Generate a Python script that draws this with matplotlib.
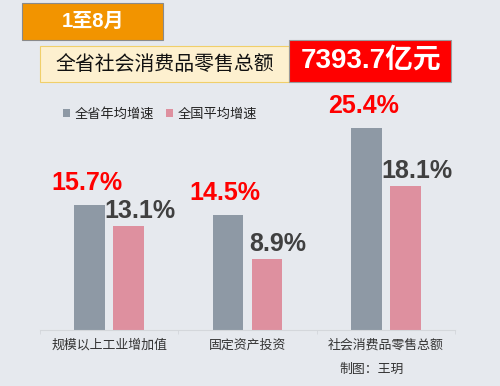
import matplotlib.pyplot as plt
import numpy as np
from matplotlib.patches import Rectangle

# 数据
categories = ['规模以上工业增加值', '固定资产投资', '社会消费品零售总额']
series_names = ['全省年均增速', '全国平均增速']
province = [15.7, 14.5, 25.4]
national = [13.1, 8.9, 18.1]
period = '1至8月'
headline_label = '全省社会消费品零售总额'
headline_value = '7393.7亿元'
credit = '制图：王玥'

bg = '#e6e9ee'
gray = '#8e99a5'
pink = '#de909f'
cjk = ['Noto Sans CJK SC', 'DejaVu Sans']
num = ['Liberation Sans', 'Noto Sans CJK SC']

fig = plt.figure(figsize=(5, 3.86), dpi=100, facecolor=bg)

# 背景层（像素坐标）
bgax = fig.add_axes([0, 0, 1, 1])
bgax.set_xlim(0, 500)
bgax.set_ylim(386, 0)
bgax.axis('off')
bgax.add_patch(Rectangle((22, 3), 141, 37, facecolor='#f29400', edgecolor='#8a8a8a', lw=0.8))
bgax.text(93, 21.5, period, color='white', fontsize=14.5, fontweight='bold',
          family=['Liberation Sans', 'Noto Sans CJK SC'], ha='center', va='center')
bgax.add_patch(Rectangle((40, 46), 249, 36, facecolor='#fdf0cf', edgecolor='#f0cf6a', lw=0.8))
bgax.text(165, 64, headline_label, color='#111111', fontsize=14.3, family=cjk,
          ha='center', va='center')
bgax.add_patch(Rectangle((289, 40), 162, 42, facecolor='#ff0000', edgecolor='#9a9a9a', lw=0.8))
bgax.text(371, 61, headline_value, color='white', fontsize=20, fontweight='bold',
          family=num, ha='center', va='center')
bgax.text(372, 369, credit, color='#333333', fontsize=9.3, family=cjk,
          ha='center', va='center')

# 柱状图
ax = fig.add_axes([40 / 500, 56 / 386, 415 / 500, 230 / 386])
ax.set_facecolor('none')
x = np.arange(len(categories))
w = 0.224
off = 0.141
b1 = ax.bar(x - off, province, w, color=gray, label=series_names[0])
b2 = ax.bar(x + off, national, w, color=pink, label=series_names[1])
ax.set_xlim(-0.5, 2.5)
ax.set_ylim(0, 28.93)

for xi, v in zip(x, province):
    ax.annotate(f'{v}%', (xi - off, v), xytext=(-2, 7), textcoords='offset points',
                ha='center', va='bottom', color='#ff0000', fontsize=18,
                fontweight='bold', family=num)
for xi, v in zip(x, national):
    ax.annotate(f'{v}%', (xi + off, v), xytext=(8, 2), textcoords='offset points',
                ha='center', va='bottom', color='#404040', fontsize=18,
                fontweight='bold', family=num)

for s in ['top', 'right', 'left']:
    ax.spines[s].set_visible(False)
ax.spines['bottom'].set_color('#d4d7db')
ax.set_yticks([])
ax.set_xticks(x)
ax.set_xticklabels(categories, fontsize=9.3, color='#333333', family=cjk)
ax.tick_params(axis='x', length=0, pad=6)
ax.set_xticks([-0.5, 0.5, 1.5, 2.5], minor=True)
ax.tick_params(axis='x', which='minor', length=3, color='#d4d7db')

leg = ax.legend(loc='upper left', bbox_to_anchor=(51 / 500, 1 - 96 / 386),
                bbox_transform=fig.transFigure, ncol=2, frameon=False,
                handlelength=0.55, handleheight=0.55, handletextpad=0.35,
                columnspacing=0.9, prop={'family': cjk, 'size': 9.5})
for t in leg.get_texts():
    t.set_color('#222222')

fig.savefig('out.png', dpi=100, facecolor=bg)
